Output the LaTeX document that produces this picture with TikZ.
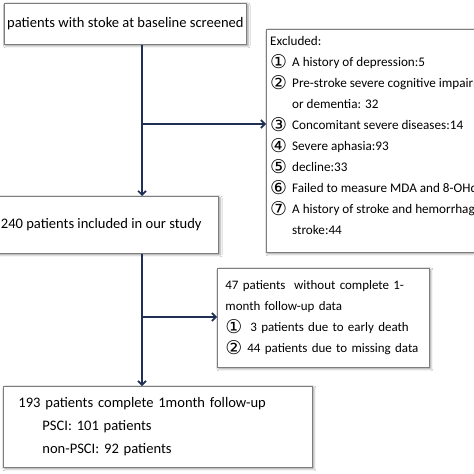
\documentclass[tikz,border=0pt]{standalone}
\usepackage{fontspec}
\setmainfont{Carlito}
\newfontfamily\circfont{DejaVu Sans}
\usepackage{tikz}
\usetikzlibrary{arrows.meta,positioning,calc,shadows.blur}
\definecolor{navy}{RGB}{31,48,84}
\definecolor{boxgray}{RGB}{125,125,125}
\newcommand{\cnum}[1]{\makebox[22bp][l]{\raisebox{-2bp}{\circfont\fontsize{19}{19}\selectfont #1}}}
\tikzset{
    box/.style={rectangle, draw=boxgray, line width=0.8bp, fill=white,
        align=left, inner ysep=0pt,
        blur shadow={shadow xshift=1.5bp, shadow yshift=-1.5bp, shadow blur radius=2bp, shadow opacity=40}},
    flow/.style={draw=navy, line width=1.6bp, -{Straight Barb[length=4bp,width=8bp]}},
    big/.style={font=\fontsize{14.6}{23}\selectfont},
    small/.style={font=\fontsize{13}{21}\selectfont}
}
\begin{document}
\begin{tikzpicture}[x=1bp, y=-1bp]
    \useasboundingbox[fill=white] (0,0) rectangle (474,474);
    % Nodes
    \node[box, big, anchor=north east, minimum height=41bp, inner xsep=3bp] (screen) at (247,3)
        {patients with stoke at baseline screened};
    \node[box, big, anchor=north east, minimum height=57bp, inner xsep=17bp] (incl) at (219,196)
        {240 patients included in our study};
    \node[box, anchor=north west, minimum width=260bp, minimum height=223bp] (excl) at (266,29) {};
    \node[anchor=north west, inner sep=0pt, font=\fontsize{13.2}{21}\selectfont] (excltext) at (270,31) {%
        \begin{tabular}{@{}l@{}l@{}}
        \multicolumn{2}{@{}l@{}}{Excluded:}\\
        \cnum{①} & A history of depression:5\\
        \cnum{②} & Pre-stroke severe cognitive impairment\\
                 & or dementia: 32\\
        \cnum{③} & Concomitant severe diseases:14\\
        \cnum{④} & Severe aphasia:93\\
        \cnum{⑤} & decline:33\\
        \cnum{⑥} & Failed to measure MDA and 8-OHdG\\
        \cnum{⑦} & A history of stroke and hemorrhagic\\
                 & stroke:44
        \end{tabular}};
    \node[box, small, anchor=north west, minimum width=212bp, minimum height=99bp, text width=196bp, inner xsep=8bp] (lost) at (217,268)
        {47 patients\ \ without complete 1-\\
         month follow-up data\\
         \cnum{①}\hspace{3bp}3 patients due to early death\\
         \cnum{②}44 patients due to missing data};
    \node[box, big, anchor=north west, minimum width=309bp, minimum height=81bp, text width=279bp, inner xsep=15bp] (final) at (3,386)
        {193 patients complete 1month follow-up\\
         \hspace*{24bp}PSCI: 101 patients\\
         \hspace*{24bp}non-PSCI: 92 patients};

    \coordinate (split1) at (142,124);
    \coordinate (split2) at (142,317);

    % edges
    \draw[flow] (screen.south -| split1) -- (incl.north -| split1);
    \draw[flow] (split1) -- (split1 -| excl.west);
    \draw[flow] (incl.south -| split2) -- (final.north -| split2);
    \draw[flow] (split2) -- (split2 -| lost.west);
\end{tikzpicture}
\end{document}
